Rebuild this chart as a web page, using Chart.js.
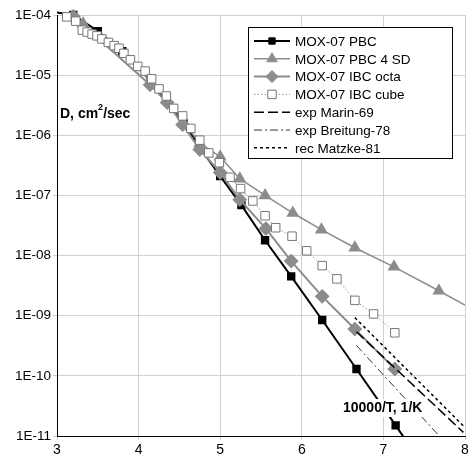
<!DOCTYPE html><html><head><script src="https://cdn.jsdelivr.net/npm/chart.js@4"></script>
<style>body{margin:0;background:#fff}#c{display:block}</style></head><body>
<div style="width:474px;height:474px"><canvas id="c" width="474" height="474"></canvas></div>
<script>
const pbc=[[3.0,1.1e-4],[3.2,1.0e-4],[3.5,5.4e-5],[3.8,2.5e-5],[4.15,7.9e-6],[4.55,1.6e-6],[4.75,6.3e-7],[5.0,2.1e-7],[5.26,6.9e-8],[5.55,1.8e-8],[5.87,4.5e-9],[6.25,8.5e-10],[6.67,1.3e-10],[7.15,1.5e-11],[7.35,6e-12]];
const sd4=[[3.2,9.3e-5],[3.32,7.2e-5],[3.7,3.2e-5],[4.2,6.8e-6],[4.5,2.1e-6],[4.75,7.4e-7],[5.0,4.4e-7],[5.24,1.9e-7],[5.55,1.0e-7],[5.89,5.1e-8],[6.24,2.7e-8],[6.65,1.35e-8],[7.13,6.5e-9],[7.68,2.6e-9],[8.0,1.5e-9]];
const sd4Marker=[1,1,0,0,0,1,1,1,1,1,1,1,1,1,0];
const octa=[[3.2,9.5e-5],[4.14,6.9e-6],[4.35,3.5e-6],[4.54,1.5e-6],[4.75,5.8e-7],[5.0,2.4e-7],[5.24,8.5e-8],[5.56,2.8e-8],[5.87,8.1e-9],[6.25,2.1e-9],[6.65,6.0e-10],[7.14,1.3e-10]];
const cube=[[3.12,9.3e-5],[3.23,7.9e-5],[3.31,5.6e-5],[3.37,5.2e-5],[3.43,4.8e-5],[3.49,4.5e-5],[3.55,4.0e-5],[3.63,3.5e-5],[3.7,3.1e-5],[3.76,2.8e-5],[3.82,2.3e-5],[3.9,1.8e-5],[3.99,1.4e-5],[4.08,1.17e-5],[4.16,8.7e-6],[4.25,5.9e-6],[4.34,4.5e-6],[4.43,2.8e-6],[4.54,2.1e-6],[4.64,1.3e-6],[4.75,8.3e-7],[4.86,5.1e-7],[4.99,3.5e-7],[5.12,2.0e-7],[5.25,1.3e-7],[5.4,8.1e-8],[5.55,4.6e-8],[5.68,2.9e-8],[5.88,2.1e-8],[6.06,1.2e-8],[6.25,6.8e-9],[6.43,4.1e-9],[6.65,1.8e-9],[6.88,1.07e-9],[7.14,5.2e-10]];
const marin=[[6.67,5.4e-10],[7.98,1.15e-11]];
const breitung=[[6.67,3.2e-10],[7.75,8e-12]];
const matzke=[[6.65,9.3e-10],[8.02,1.3e-11]];
const xTicks=[3,4,5,6,7,8];
const yTicks=[1e-4,1e-5,1e-6,1e-7,1e-8,1e-9,1e-10,1e-11];
const yLabels=['1E-04','1E-05','1E-06','1E-07','1E-08','1E-09','1E-10','1E-11'];
const names=['MOX-07 PBC','MOX-07 PBC 4 SD','MOX-07 IBC octa','MOX-07 IBC cube','exp Marin-69','exp Breitung-78','rec Matzke-81'];
const pts=a=>a.map(p=>({x:p[0],y:p[1]}));
const F='"Liberation Sans", Arial, sans-serif';
const CL={left:6,top:10,right:0,bottom:0};
const ds=[
 {data:pts(pbc),borderColor:'#000',backgroundColor:'#000',borderWidth:2,pointStyle:'rect',pointRadius:pbc.map((p,i)=>i===0||i===pbc.length-1?0:4.5),order:5,clip:CL},
 {data:pts(sd4),borderColor:'#8c8c8c',backgroundColor:'#8c8c8c',borderWidth:1.5,pointStyle:'triangle',pointRadius:sd4Marker.map(m=>m?6:0),order:4,clip:CL},
 {data:pts(octa),borderColor:'#8c8c8c',backgroundColor:'#8c8c8c',borderWidth:2,pointStyle:'rectRot',pointRadius:6,order:3,clip:CL},
 {data:pts(cube),borderColor:'#999',backgroundColor:'#fff',pointBorderColor:'#777',pointBorderWidth:1,borderWidth:1,borderDash:[1.5,2],pointStyle:'rect',pointRadius:6,order:1,clip:CL},
 {data:pts(marin),borderColor:'#000',borderWidth:1.5,borderDash:[10,4],pointRadius:0,order:2},
 {data:pts(breitung),borderColor:'#333',borderWidth:1,borderDash:[8,3,2,3],pointRadius:0,order:2},
 {data:pts(matzke),borderColor:'#000',borderWidth:1.5,borderDash:[3,3],pointRadius:0,order:2}
];
const deco={id:'deco',afterDatasetsDraw(ch){
 const c=ch.ctx;c.save();
 c.font='bold 14px '+F;c.textBaseline='middle';
 const t='10000/T, 1/K';const w=c.measureText(t).width;
 c.fillStyle='#fff';c.fillRect(341,399,w+6,18);
 c.fillStyle='#000';c.fillText(t,343,408);
 c.fillText('D, cm',60,114);
 let wx=60+c.measureText('D, cm').width;c.font='bold 9px '+F;c.fillText('2',wx,108);
 wx+=c.measureText('2').width;c.font='bold 14px '+F;c.fillText('/sec',wx,114);
 c.fillStyle='#fff';c.fillRect(248,27,204,131);c.strokeStyle='#000';c.lineWidth=1;c.strokeRect(248.5,27.5,204,131);
 c.font='13.5px '+F;
 names.forEach((n,i)=>{const y=41+i*17.8,d=ds[i];
  c.save();c.strokeStyle=d.borderColor;c.lineWidth=d.borderWidth;c.setLineDash(d.borderDash||[]);
  c.beginPath();c.moveTo(254,y);c.lineTo(290,y);c.stroke();c.restore();
  if(i<4){c.save();c.fillStyle=d.backgroundColor;c.strokeStyle=d.pointBorderColor||d.borderColor;c.lineWidth=1;
   Chart.helpers.drawPoint(c,{pointStyle:d.pointStyle,radius:i===0?4.5:6,borderWidth:1},272,y);c.restore();}
  c.fillStyle='#000';c.fillText(n,295,y+1);});
 c.restore();}};
new Chart(document.getElementById('c'),{type:'line',data:{datasets:ds},plugins:[deco],
 options:{responsive:false,animation:false,layout:{padding:{top:15,right:9,left:0,bottom:0}},
 plugins:{legend:{display:false},tooltip:{enabled:false}},
 scales:{
  x:{type:'linear',min:3,max:8,afterBuildTicks:s=>{s.ticks=xTicks.map(v=>({value:v}))},afterFit:s=>{s.height=38},
   grid:{color:'#d0d0d0',tickLength:4},border:{color:'#000'},ticks:{color:'#000',font:{family:F,size:14},padding:2}},
  y:{type:'logarithmic',min:1e-11,max:1e-4,afterBuildTicks:s=>{s.ticks=yTicks.map(v=>({value:v}))},afterFit:s=>{s.width=57},
   grid:{color:'#d0d0d0',tickLength:4},border:{color:'#000'},
   ticks:{color:'#000',font:{family:F,size:13.5},padding:2,callback:(v,i)=>yLabels[i]}}
 }}});
</script></body></html>
